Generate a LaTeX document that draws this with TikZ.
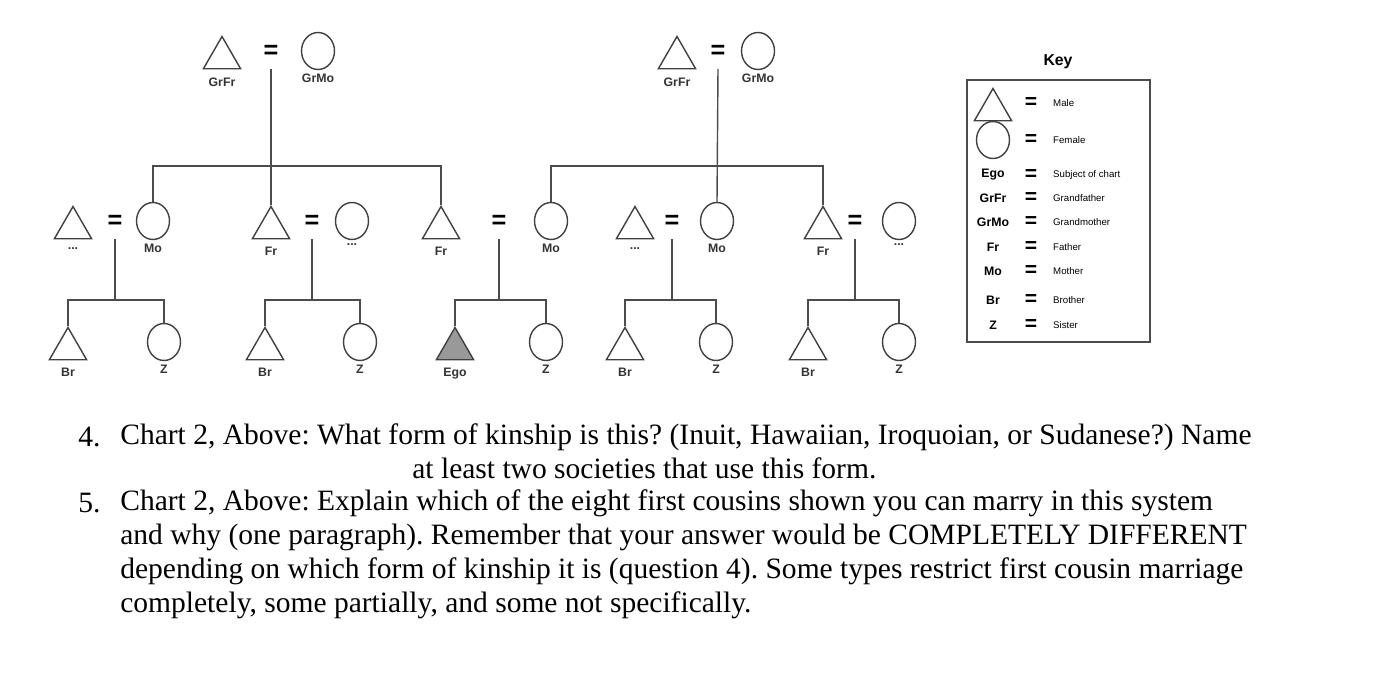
\documentclass[tikz,border=0pt]{standalone}
\usepackage{fontspec}
\setmainfont{Liberation Serif}
\newfontfamily\keyfont{Liberation Sans}
\frenchspacing
\usetikzlibrary{shapes.geometric, positioning, calc}
\tikzstyle{male} = [draw, regular polygon, regular polygon sides=3, minimum size=0.86cm, inner sep=0pt, thick, draw=black!75]
\tikzstyle{female} = [draw, ellipse, minimum width=0.66cm, minimum height=0.74cm, inner sep=0pt, thick, draw=black!75]
\tikzstyle{eq} = [inner sep=0pt, font=\keyfont\Large\bfseries]
\tikzstyle{lbl} = [font=\keyfont\scriptsize\bfseries, text=black!80, label distance=1pt]
\tikzstyle{flbl} = [lbl, label distance=-1.5pt]
\tikzstyle{line} = [thick, draw=black!70]
\tikzstyle{txt} = [anchor=west, inner sep=0pt, font=\fontsize{16.8}{19}\selectfont]
\begin{document}
\begin{tikzpicture}[x=0.02cm, y=-0.02cm]
\useasboundingbox (0,0) rectangle (1397,682);
% grandparents
\node[male,label={[lbl]below:GrFr}] (gfA) at (222,58) {};
\node[eq] (eqA) at (271,52) {=};
\node[female,label={[flbl]below:GrMo}] (gmA) at (318,51) {};
\node[male,label={[lbl]below:GrFr}] (gfB) at (677,58) {};
\node[eq] (eqB) at (718,52) {=};
\node[female,label={[flbl]below:GrMo}] (gmB) at (758,51) {};
% parents
\node[male,label={[lbl]below:...}] (p1) at (73,228) {};
\node[eq] (eq1) at (115,222) {=};
\node[female,label={[flbl]below:Mo}] (p2) at (153,221) {};
\node[male,label={[lbl]below:Fr}] (p3) at (271,228) {};
\node[eq] (eq2) at (312,222) {=};
\node[female,label={[flbl]below:...}] (p4) at (352,221) {};
\node[male,label={[lbl]below:Fr}] (p5) at (441,228) {};
\node[eq] (eq3) at (499,222) {=};
\node[female,label={[flbl]below:Mo}] (p6) at (551,221) {};
\node[male,label={[lbl]below:...}] (p7) at (635,228) {};
\node[eq] (eq4) at (672,222) {=};
\node[female,label={[flbl]below:Mo}] (p8) at (717,221) {};
\node[male,label={[lbl]below:Fr}] (p9) at (823,228) {};
\node[eq] (eq5) at (855,222) {=};
\node[female,label={[flbl]below:...}] (p10) at (899,221) {};
% children
\node[male,label={[lbl]below:Br}] (c1) at (68,349) {};
\node[female,label={[flbl]below:Z}] (c2) at (164,342) {};
\node[male,label={[lbl]below:Br}] (c3) at (265,349) {};
\node[female,label={[flbl]below:Z}] (c4) at (360,342) {};
\node[male,fill=black!40,label={[lbl]below:Ego}] (ego) at (455,349) {};
\node[female,label={[flbl]below:Z}] (c6) at (546,342) {};
\node[male,label={[lbl]below:Br}] (c7) at (625,349) {};
\node[female,label={[flbl]below:Z}] (c8) at (716,342) {};
\node[male,label={[lbl]below:Br}] (c9) at (808,349) {};
\node[female,label={[flbl]below:Z}] (c10) at (899,342) {};
% descent lines
\coordinate (sA) at (271,166);
\coordinate (sB) at (718,166);
\draw[line] (271,69) -- (p3.north);
\draw[line] (p2.north) |- (sA) -| (p5.north);
\draw[line] (718,69) -- (p8.north);
\draw[line] (p6.north) |- (sB) -| (p9.north);
\foreach \e/\a/\b in {eq1/c1/c2, eq2/c3/c4, eq3/ego/c6, eq4/c7/c8, eq5/c9/c10}{
  \coordinate (m) at ($(\e)+(0,17)$);
  \coordinate (h) at ($(\e)+(0,78)$);
  \draw[line] (m) -- (h);
  \draw[line] (\a.north) |- (h) -| (\b.north);
}
% key
\node[font=\keyfont\small\bfseries] (keyt) at (1058,62) {Key};
\draw[line] (967,80) rectangle (1150,342);
\node[male] (km) at (993,110) {};
\node[female] (kf) at (993,140) {};
\foreach \y/\a/\b [count=\i] in {103/{}/Male, 140/{}/Female, 175/Ego/Subject of chart, 198/GrFr/Grandfather, 222/GrMo/Grandmother, 247/Fr/Father, 271/Mo/Mother, 300/Br/Brother, 325/Z/Sister}{
  \node[font=\keyfont\scriptsize\bfseries] (ka\i) at (993,\y) {\a};
  \node[font=\keyfont\large\bfseries, inner sep=0pt] (ke\i) at (1031,\y) {=};
  \node[font=\keyfont\fontsize{5.5}{6}\selectfont, anchor=west] (kb\i) at (1047,\y) {\b};
}
% questions
\node[txt] (n4) at (78,437) {4.};
\node[txt] (q4a) at (120,437) {Chart 2, Above: What form of kinship is this? (Inuit, Hawaiian, Iroquoian, or Sudanese?) Name};
\node[txt] (q4b) at (412,468) {at least two societies that use this form.};
\node[txt] (n5) at (78,503) {5.};
\node[txt] (q5a) at (120,503) {Chart 2, Above: Explain which of the eight first cousins shown you can marry in this system};
\node[txt] (q5b) at (120,537) {and why (one paragraph). Remember that your answer would be COMPLETELY DIFFERENT};
\node[txt] (q5c) at (120,571) {depending on which form of kinship it is (question 4). Some types restrict first cousin marriage};
\node[txt] (q5d) at (120,605) {completely, some partially, and some not specifically.};
\end{tikzpicture}
\end{document}
